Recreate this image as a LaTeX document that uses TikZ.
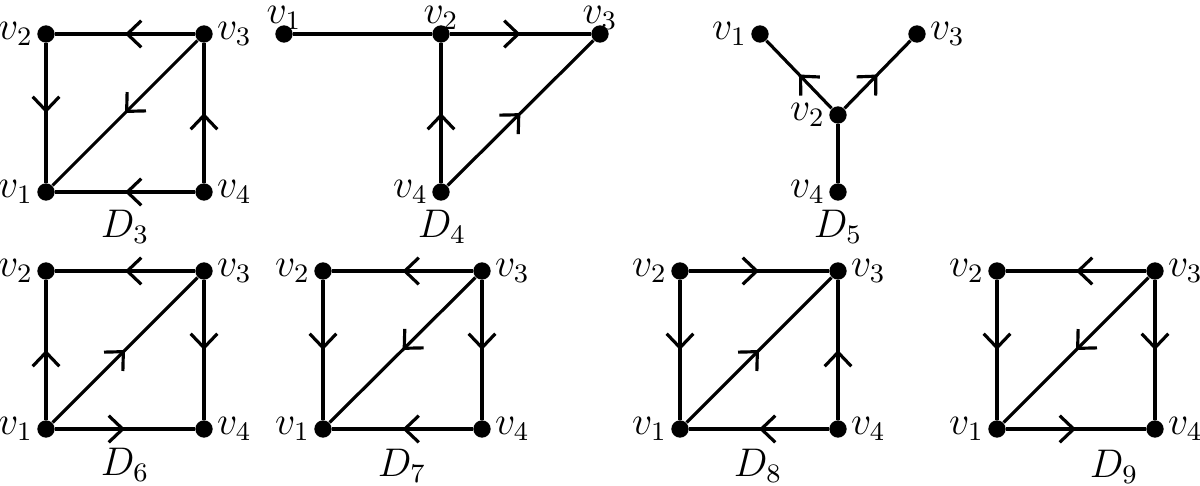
\documentclass[tikz,border=0pt]{standalone}
\usetikzlibrary{arrows.meta,decorations.markings}
\tikzset{
  dot/.style={circle,fill=black,inner sep=0pt,minimum size=5.2pt},
  edge/.style={line width=0.95pt},
  mid/.style={edge,postaction={decorate,decoration={markings,
     mark=at position 0.5 with {\arrow{Straight Barb[length=4.2pt,width=8pt,line width=0.95pt]}}}}},
  every label/.style={inner sep=0.6pt},
  label distance=0.3pt,
  up/.style={label={[inner sep=0pt,label distance=-1.6pt]above:#1}},
  dlab/.style={inner sep=0.5pt},
  every node/.style={font=\fontsize{12}{14}\selectfont}
}
\begin{document}
\begin{tikzpicture}[x=0.3pt,y=-0.3pt]
\useasboundingbox (0,0) rectangle (1200,485);
% D3
\node[dot,label=left:$v_1$]  (a1) at (46,192) {};
\node[dot,label=left:$v_2$]  (a2) at (46,34) {};
\node[dot,label=right:$v_3$] (a3) at (204,34) {};
\node[dot,label=right:$v_4$] (a4) at (204,192) {};
\draw[mid] (a3) -- (a2);
\draw[mid] (a2) -- (a1);
\draw[mid] (a3) -- (a1);
\draw[mid] (a4) -- (a3);
\draw[mid] (a4) -- (a1);
\node[dlab] (D3) at (125,227) {$D_3$};
% D4
\node[dot,up=$v_1$] (b1) at (284,34) {};
\node[dot,up=$v_2$] (b2) at (441,34) {};
\node[dot,up=$v_3$] (b3) at (600,34) {};
\node[dot,label=left:$v_4$]  (b4) at (441,192) {};
\draw[edge] (b1) -- (b2);
\draw[mid] (b2) -- (b3);
\draw[mid] (b4) -- (b2);
\draw[mid] (b4) -- (b3);
\node[dlab] (D4) at (442,227) {$D_4$};
% D5
\node[dot,label=left:$v_1$]  (c1) at (760,34) {};
\node[dot,label=left:$v_2$]  (c2) at (838,115) {};
\node[dot,label=right:$v_3$] (c3) at (917,34) {};
\node[dot,label=left:$v_4$]  (c4) at (838,192) {};
\draw[mid] (c2) -- (c1);
\draw[mid] (c2) -- (c3);
\draw[edge] (c2) -- (c4);
\node[dlab] (D5) at (838,227) {$D_5$};
% D6
\node[dot,label=left:$v_1$]  (d1) at (46,429) {};
\node[dot,label=left:$v_2$]  (d2) at (46,271) {};
\node[dot,label=right:$v_3$] (d3) at (204,271) {};
\node[dot,label=right:$v_4$] (d4) at (204,429) {};
\draw[mid] (d3) -- (d2);
\draw[mid] (d1) -- (d2);
\draw[mid] (d1) -- (d3);
\draw[mid] (d3) -- (d4);
\draw[mid] (d1) -- (d4);
\node[dlab] (D6) at (125,465) {$D_6$};
% D7
\node[dot,label=left:$v_1$]  (e1) at (323,429) {};
\node[dot,label=left:$v_2$]  (e2) at (323,271) {};
\node[dot,label=right:$v_3$] (e3) at (482,271) {};
\node[dot,label=right:$v_4$] (e4) at (482,429) {};
\draw[mid] (e3) -- (e2);
\draw[mid] (e2) -- (e1);
\draw[mid] (e3) -- (e1);
\draw[mid] (e3) -- (e4);
\draw[mid] (e4) -- (e1);
\node[dlab] (D7) at (402,466) {$D_7$};
% D8
\node[dot,label=left:$v_1$]  (f1) at (680,429) {};
\node[dot,label=left:$v_2$]  (f2) at (680,271) {};
\node[dot,label=right:$v_3$] (f3) at (838,271) {};
\node[dot,label=right:$v_4$] (f4) at (838,429) {};
\draw[mid] (f2) -- (f3);
\draw[mid] (f2) -- (f1);
\draw[mid] (f1) -- (f3);
\draw[mid] (f4) -- (f3);
\draw[mid] (f4) -- (f1);
\node[dlab] (D8) at (758,466) {$D_8$};
% D9
\node[dot,label=left:$v_1$]  (g1) at (997,429) {};
\node[dot,label=left:$v_2$]  (g2) at (997,271) {};
\node[dot,label=right:$v_3$] (g3) at (1155,271) {};
\node[dot,label=right:$v_4$] (g4) at (1155,429) {};
\draw[mid] (g3) -- (g2);
\draw[mid] (g2) -- (g1);
\draw[mid] (g3) -- (g1);
\draw[mid] (g3) -- (g4);
\draw[mid] (g1) -- (g4);
\node[dlab] (D9) at (1114,467) {$D_9$};
\end{tikzpicture}
\end{document}
